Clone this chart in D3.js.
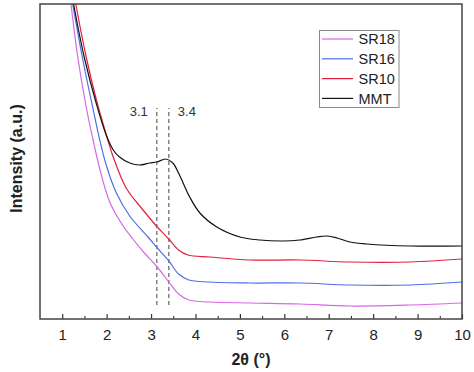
<!DOCTYPE html>
<html><head><meta charset="utf-8">
<script src="https://cdn.jsdelivr.net/npm/d3@7"></script>
<style>body{margin:0;background:#fff}svg{display:block}</style>
</head><body><svg id="c" width="474" height="372"></svg>
<script>
// ---- data (intensity in arbitrary units) ----
const xTicks = [1,2,3,4,5,6,7,8,9,10];
const xMinorTicks = [1.5,2.5,3.5,4.5,5.5,6.5,7.5,8.5,9.5];
const seriesNames = ["SR18","SR16","SR10","MMT"];
const seriesColors = ["#d866e6","#4f6fe6","#e2203e","#111111"];
const sr18 = [[1.13,340],[1.20,314],[1.35,262],[1.54,212],[1.69,180],[1.84,151],[2.07,117],[2.37,93],[2.59,80],[2.85,66],[3.14,52],[3.40,37],[3.62,25],[3.85,19],[4.32,17],[5.22,16],[6.35,15],[7.48,13],[8.84,14],[10,16]];
const sr16 = [[1.14,340],[1.24,314],[1.46,260],[1.69,211],[1.84,180],[1.99,154],[2.22,126],[2.52,103],[2.93,82],[3.14,71],[3.40,58],[3.62,45],[3.85,39],[4.32,37],[5.22,36],[6.35,36],[7.48,34],[8.84,34],[10,37]];
const sr10 = [[1.21,340],[1.31,314],[1.54,262],[1.77,219],[2.00,183],[2.14,163],[2.44,131],[2.82,109],[3.14,92],[3.40,80],[3.62,69],[3.83,64],[4.32,62],[5.22,59],[6.35,59],[7.48,57],[8.84,57],[10,60]];
const mmt  = [[1.16,340],[1.26,314],[1.50,261],[1.77,215],[1.99,184],[2.15,169],[2.29,162],[2.52,156],[2.74,154],[2.97,156],[3.13,157],[3.33,160],[3.49,156],[3.65,143],[3.87,122],[4.10,106],[4.48,92],[5.00,82],[5.45,79],[5.97,78],[6.35,79],[6.73,82],[6.96,83],[7.19,81],[7.48,77],[7.86,75],[8.84,73],[10,73]];
const seriesData = [sr18, sr16, sr10, mmt];
const peakPositions = [3.13, 3.40];
const peakLabels = ["3.1", "3.4"];
const peakLineRange = [14, 211];

// ---- layout ----
const svg = d3.select("#c");
const L = 40, R = 462, T = 4, B = 319;
const x = d3.scaleLinear().domain([0.5, 10]).range([L, R]);
const y = d3.scaleLinear().domain([0, 315]).range([B, T]);

svg.append("defs").append("clipPath").attr("id","clip")
  .append("rect").attr("x",L).attr("y",T).attr("width",R-L).attr("height",B-T);

// peak dashed lines
svg.append("g").selectAll("line").data(peakPositions).join("line")
  .attr("x1", d=>x(d)).attr("x2", d=>x(d))
  .attr("y1", y(peakLineRange[0])).attr("y2", y(peakLineRange[1]))
  .attr("stroke","#6e6e6e").attr("stroke-width",1.3).attr("stroke-dasharray","4,3");
svg.append("g").selectAll("text").data(peakPositions).join("text")
  .attr("x", (d,i)=> i===0 ? x(d)-9 : x(d)+9)
  .attr("y", y(peakLineRange[1]) + 8)
  .attr("text-anchor", (d,i)=> i===0 ? "end" : "start")
  .attr("font-family","Liberation Sans, Arial, sans-serif").attr("font-size",13)
  .attr("fill","#333").text((d,i)=>peakLabels[i]);

// curves
const line = d3.line().x(d=>x(d[0])).y(d=>y(d[1])).curve(d3.curveCatmullRom.alpha(0.5));
svg.append("g").attr("clip-path","url(#clip)").selectAll("path").data(seriesData).join("path")
  .attr("d", line).attr("fill","none")
  .attr("stroke",(d,i)=>seriesColors[i]).attr("stroke-width",1.2);

// x axis
const ax = svg.append("g").attr("transform",`translate(0,${B})`)
  .call(d3.axisBottom(x).tickValues(xTicks).tickFormat(d3.format("d"))
    .tickSizeInner(-5).tickSizeOuter(0).tickPadding(10));
ax.select(".domain").remove();
ax.selectAll(".tick line").attr("stroke","#333").attr("stroke-width",1.2);
ax.selectAll(".tick text").attr("font-family","Liberation Sans, Arial, sans-serif")
  .attr("font-size",15).attr("fill","#222");
const axm = svg.append("g").attr("transform",`translate(0,${B})`)
  .call(d3.axisBottom(x).tickValues(xMinorTicks).tickFormat("").tickSizeInner(-3).tickSizeOuter(0));
axm.select(".domain").remove();
axm.selectAll(".tick line").attr("stroke","#333").attr("stroke-width",1.1);

// frame
svg.append("rect").attr("x",L).attr("y",T).attr("width",R-L).attr("height",B-T)
  .attr("fill","none").attr("stroke","#444").attr("stroke-width",1.5);

// axis titles
svg.append("text").attr("x",(L+R)/2).attr("y",365).attr("text-anchor","middle")
  .attr("font-family","Liberation Sans, Arial, sans-serif").attr("font-size",16)
  .attr("font-weight","bold").attr("fill","#222").text("2θ (°)");
svg.append("text").attr("transform",`translate(22,${(T+B)/2 - 3}) rotate(-90)`)
  .attr("text-anchor","middle")
  .attr("font-family","Liberation Sans, Arial, sans-serif").attr("font-size",16)
  .attr("font-weight","bold").attr("fill","#222").text("Intensity (a.u.)");

// legend
const lg = svg.append("g");
lg.append("rect").attr("x",319.5).attr("y",30.5).attr("width",79.5).attr("height",77)
  .attr("fill","#fff").attr("stroke","#8a8a8a").attr("stroke-width",1);
const ent = lg.selectAll("g.e").data(seriesNames).join("g").attr("class","e")
  .attr("transform",(d,i)=>`translate(0,${39 + i*19.8})`);
ent.append("line").attr("x1",322).attr("x2",353).attr("y1",0).attr("y2",0)
  .attr("stroke",(d,i)=>seriesColors[i]).attr("stroke-width",1.2);
ent.append("text").attr("x",358.5).attr("y",5.2)
  .attr("font-family","Liberation Sans, Arial, sans-serif").attr("font-size",14.5)
  .attr("fill","#222").text(d=>d);
</script>
</body></html>
